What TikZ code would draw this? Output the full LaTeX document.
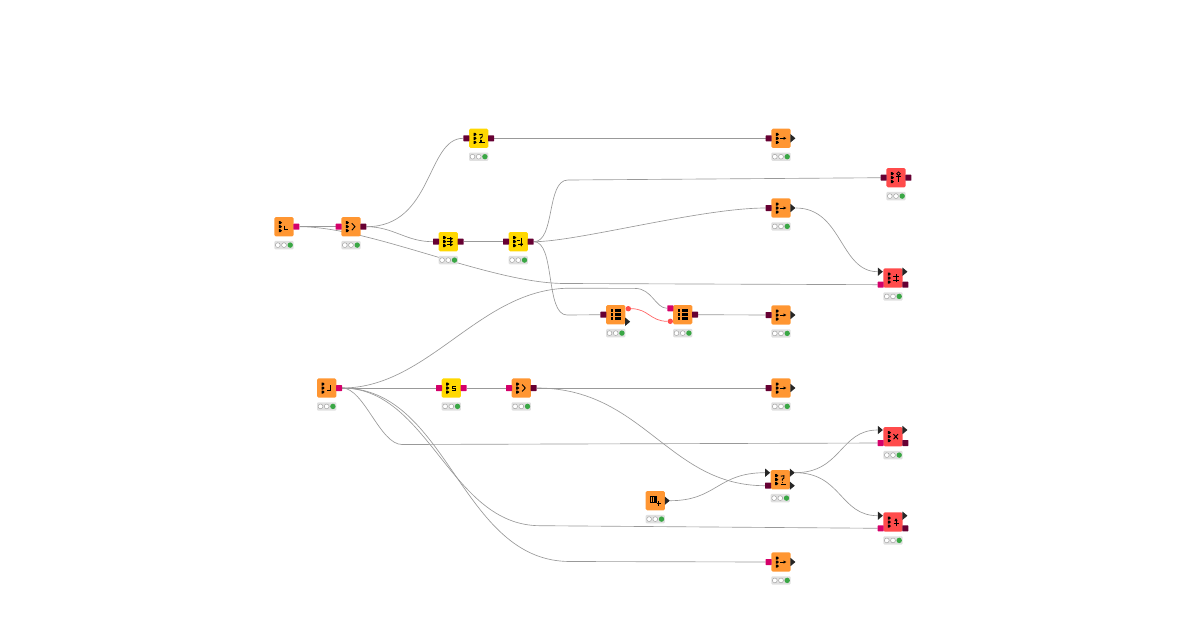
\documentclass[tikz,border=0pt]{standalone}
\usetikzlibrary{shapes.geometric,backgrounds,arrows.meta}
\definecolor{manip}{HTML}{FF9632}
\definecolor{flow}{HTML}{FFD800}
\definecolor{sink}{HTML}{FF4B4B}
\definecolor{magport}{HTML}{D4006A}
\definecolor{darkport}{HTML}{660033}
\definecolor{lamp}{HTML}{3AA745}
\tikzset{
	knode/.style={rounded corners=1.5pt,minimum size=19.3pt,inner sep=0pt},
	statusbox/.style={fill=black!12,rounded corners=1pt,minimum width=19.3pt,minimum height=8.3pt,inner sep=0pt},
	sqport/.style={minimum size=6pt,inner sep=0pt,rounded corners=0.5pt},
	mag/.style={sqport,fill=magport},
	dark/.style={sqport,fill=darkport},
	tri/.style={isosceles triangle,isosceles triangle apex angle=80,fill=black!85,inner sep=0pt,minimum size=5pt,xshift=-0.9pt},
	var/.style={circle,fill=sink,inner sep=0pt,minimum size=5.4pt},
	wire/.style={draw=black!40,line width=0.65pt},
	varwire/.style={draw=sink!85,line width=0.7pt},
	ico/.style={draw=black,line width=0.9pt},
	icoarrow/.style={draw=black,line width=0.7pt,-{Latex[length=3pt,width=3.4pt]}},
}
% node with its status lamps, the last argument is the icon
\newcommand{\knode}[5]{
	\node[knode,fill=#4] (#1) at (#2,#3) {};
	\node[statusbox] (#1-st) at ([shift={(0,18.4)}]#1.center) {};
	\begin{scope}[shift={(#1.center)}]
		\foreach \dx in {-6.2,0} \filldraw[fill=white,draw=black!40,line width=0.4pt] (\dx,18.4) circle(2.4);
		\fill[lamp] (6.2,18.4) circle(2.7);
		#5
	\end{scope}
}
\newcommand{\kport}[5]{\node[#2] (#3) at ([shift={(#4,#5)}]#1.center) {};}
\newcommand{\gdots}{\foreach \dy in {-4,0,4} \fill (-5.2,\dy-1.5) -- (-3.6,\dy-1.5) -- (-2,\dy) -- (-3.6,\dy+1.5) -- (-5.2,\dy+1.5) -- cycle;}
\newcommand{\garrow}{\gdots \draw[icoarrow] (-1,0)--(5.5,0);}
\newcommand{\grows}{\foreach \dy in {-4,0,4} {\fill (-5.2,\dy-1.3) rectangle +(2.8,2.6); \fill (-1,\dy-1.3) rectangle +(2.8,2.6); \fill (2.6,\dy-1.3) rectangle +(2.4,2.6);}}
\newcommand{\gquery}{\gdots \draw[ico] (0.5,-3.5)--(3.5,-4)--(3.5,-1.5)--(2,-0.5)--(2,1); \fill (1.3,2) rectangle +(1.6,1.3); \draw[line width=0.5pt] (0.5,4.3)--(6,4.3);}
\begin{document}
\begin{tikzpicture}[x=1pt,y=-1pt]
	\useasboundingbox (0,0) rectangle (1200,630);

	\knode{read}{284}{226.7}{manip}{\gdots \draw[ico] (0.3,-1)--(0.3,3)--(3.8,3);}
	\knode{sep}{351}{226.7}{manip}{\gdots \draw[ico] (0.8,-3.5)--(4,0)--(0.8,3.5);}
	\knode{query}{478.7}{138.3}{flow}{\gquery}
	\knode{joina}{448.3}{241.7}{flow}{\gdots \foreach \dy in {-3,0,3} \draw[icoarrow] (-1,\dy)--(5,\dy); \draw[line width=0.6pt] (1.5,-4.5)--(1.5,4.5);}
	\knode{joinb}{518.3}{241.7}{flow}{\gdots \draw[line width=0.6pt] (-1,-1)--(2,-1); \draw[icoarrow] (3,-4)--(3,5); \draw[line width=0.6pt] (0,3)--(5,3);}
	\knode{viewa}{781}{138.3}{manip}{\garrow}
	\knode{save}{896}{177.7}{sink}{\gdots \draw[line width=0.8pt] (0,-1)--(5,-1) (2.5,-1)--(2.5,4); \draw[line width=0.8pt] (2.5,-4) circle(1.8);}
	\knode{viewb}{781}{208}{manip}{\garrow}
	\knode{mergea}{893}{278}{sink}{\gdots \draw[ico] (3,-4)--(3,4) (0,-1.5)--(6,-1.5) (0,2)--(6,2);}
	\knode{fila}{615.7}{314.7}{manip}{\grows}
	\knode{filb}{682.7}{314.7}{manip}{\grows}
	\knode{viewc}{781}{315}{manip}{\garrow}
	\knode{readb}{326.7}{388}{manip}{\gdots \draw[ico] (3.5,-3)--(3.5,2.5)--(0.5,2.5);}
	\knode{conv}{451.3}{388}{flow}{\gdots \draw[ico] (4.5,-2)--(1,-2)--(1,0)--(4.5,0)--(4.5,2)--(1,2);}
	\knode{sepb}{521.3}{388}{manip}{\gdots \draw[ico] (0.8,-3.5)--(4,0)--(0.8,3.5);}
	\knode{viewd}{781}{388}{manip}{\garrow}
	\knode{mergeb}{893}{436.7}{sink}{\gdots \draw[ico] (0.5,-2.5)--(5,2.5) (5,-2.5)--(0.5,2.5);}
	\knode{pick}{780.3}{479.7}{manip}{\gquery}
	\knode{tabl}{655.3}{500.7}{manip}{
		\draw[line width=0.25pt] (-5,-4.7) grid[step=1.6] (1.4,1.3);
		\draw[line width=0.5pt] (-5,-4.7) rectangle (1.4,1.3);
		\draw[ico] (1.2,2.8)--(5.4,2.8) (3.3,0.7)--(3.3,4.9);
	}
	\knode{mergec}{893}{522}{sink}{\gdots \draw[icoarrow] (3,4)--(3,-4); \draw[line width=0.6pt] (0.5,1)--(5.5,1);}
	\knode{viewe}{781}{562}{manip}{\garrow}

	\kport{read}{mag}{read-o}{12.3}{0}
	\kport{sep}{mag}{sep-i}{-12.3}{0}
	\kport{sep}{dark}{sep-o}{12.3}{0}
	\kport{query}{dark}{query-i}{-12.3}{0}
	\kport{query}{dark}{query-o}{12.3}{0}
	\kport{joina}{dark}{joina-i}{-12.3}{0}
	\kport{joina}{dark}{joina-o}{12.3}{0}
	\kport{joinb}{dark}{joinb-i}{-12.3}{0}
	\kport{joinb}{dark}{joinb-o}{12.3}{0}
	\kport{viewa}{dark}{viewa-i}{-12.3}{0}
	\kport{viewa}{tri}{viewa-o}{12.3}{0}
	\kport{save}{dark}{save-i}{-12.3}{0}
	\kport{save}{dark}{save-o}{12.3}{0}
	\kport{viewb}{dark}{viewb-i}{-12.3}{0}
	\kport{viewb}{tri}{viewb-o}{12.3}{0}
	\kport{mergea}{tri}{mergea-t}{-12.3}{-6.3}
	\kport{mergea}{mag}{mergea-i}{-12.3}{6.7}
	\kport{mergea}{tri}{mergea-u}{12.3}{-6.3}
	\kport{mergea}{dark}{mergea-o}{12.3}{6.7}
	\kport{fila}{dark}{fila-i}{-12.3}{0}
	\kport{fila}{var}{fila-v}{12.6}{-6}
	\kport{fila}{tri}{fila-o}{12.3}{7}
	\kport{filb}{mag}{filb-i}{-12.3}{-6.4}
	\kport{filb}{var}{filb-v}{-12.4}{6.6}
	\kport{filb}{dark}{filb-o}{12.3}{0}
	\kport{viewc}{dark}{viewc-i}{-12.3}{0}
	\kport{viewc}{tri}{viewc-o}{12.3}{0}
	\kport{readb}{mag}{readb-o}{12.3}{0}
	\kport{conv}{mag}{conv-i}{-12.3}{0}
	\kport{conv}{mag}{conv-o}{12.3}{0}
	\kport{sepb}{mag}{sepb-i}{-12.3}{0}
	\kport{sepb}{dark}{sepb-o}{12.3}{0}
	\kport{viewd}{dark}{viewd-i}{-12.3}{0}
	\kport{viewd}{tri}{viewd-o}{12.3}{0}
	\kport{mergeb}{tri}{mergeb-t}{-12.3}{-6.7}
	\kport{mergeb}{mag}{mergeb-i}{-12.3}{6.3}
	\kport{mergeb}{tri}{mergeb-u}{12.3}{-6.7}
	\kport{mergeb}{dark}{mergeb-o}{12.3}{6.3}
	\kport{pick}{tri}{pick-t}{-12.3}{-7}
	\kport{pick}{dark}{pick-i}{-12.3}{6}
	\kport{pick}{tri}{pick-u}{12.3}{-7}
	\kport{pick}{tri}{pick-o}{12.3}{6}
	\kport{tabl}{tri}{tabl-o}{12.3}{0}
	\kport{mergec}{tri}{mergec-t}{-12.3}{-6.3}
	\kport{mergec}{mag}{mergec-i}{-12.3}{6.3}
	\kport{mergec}{tri}{mergec-u}{12.3}{-6.3}
	\kport{mergec}{dark}{mergec-o}{12.3}{6.3}
	\kport{viewe}{mag}{viewe-i}{-12.3}{0}
	\kport{viewe}{tri}{viewe-o}{12.3}{0}

	\coordinate (bend-save) at (568,180);
	\coordinate (bend-fil) at (567,315);
	\coordinate (bend-a) at (565,283.5);
	\coordinate (bend-k) at (570,288.2);
	\coordinate (bend-l) at (635,288.4);
	\coordinate (bend-q) at (402,444.5);
	\coordinate (bend-t) at (540,525.7);
	\coordinate (bend-u) at (570,561.5);

	\begin{scope}[on background layer]
	\draw[wire] (read-o)--(sep-i);
	\draw[wire] (read-o) .. controls +(75,0) and +(-75,0) .. (bend-a) -- (mergea-i);
	\draw[wire] (sep-o) .. controls +(70,0) and +(-40,0) .. (query-i);
	\draw[wire] (sep-o) .. controls +(30,0) and +(-30,0) .. (joina-i);
	\draw[wire] (query-o)--(viewa-i);
	\draw[wire] (joina-o)--(joinb-i);
	\draw[wire] (joinb-o) .. controls +(25,0) and +(-22,0) .. (bend-save) -- (save-i);
	\draw[wire] (joinb-o) .. controls +(47,0) and +(-68,0) .. (viewb-i);
	\draw[wire] (joinb-o) .. controls +(25,0) and +(-22,0) .. (bend-fil) -- (fila-i);
	\draw[wire] (viewb-o) .. controls +(50,0) and +(-40,0) .. (mergea-t);
	\draw[varwire] (fila-v) .. controls +(20,0) and +(-20,0) .. (filb-v);
	\draw[wire] (readb-o) .. controls +(90,0) and +(-90,0) .. (bend-k) -- (bend-l) .. controls +(17,0) and +(-15,0) .. (filb-i);
	\draw[wire] (filb-o)--(viewc-i);
	\draw[wire] (readb-o)--(conv-i);
	\draw[wire] (conv-o)--(sepb-i);
	\draw[wire] (sepb-o)--(viewd-i);
	\draw[wire] (sepb-o) .. controls +(110,0) and +(-100,0) .. (pick-i);
	\draw[wire] (tabl-o) .. controls +(50,0) and +(-50,0) .. (pick-t);
	\draw[wire] (pick-u) .. controls +(50,0) and +(-40,0) .. (mergeb-t);
	\draw[wire] (pick-u) .. controls +(50,0) and +(-40,0) .. (mergec-t);
	\draw[wire] (readb-o) .. controls +(25,0) and +(-22,0) .. (bend-q) -- (mergeb-i);
	\draw[wire] (readb-o) .. controls +(90,0) and +(-90,0) .. (bend-t) -- (mergec-i);
	\draw[wire] (readb-o) .. controls +(110,0) and +(-110,0) .. (bend-u) -- (viewe-i);
	\end{scope}
\end{tikzpicture}
\end{document}
